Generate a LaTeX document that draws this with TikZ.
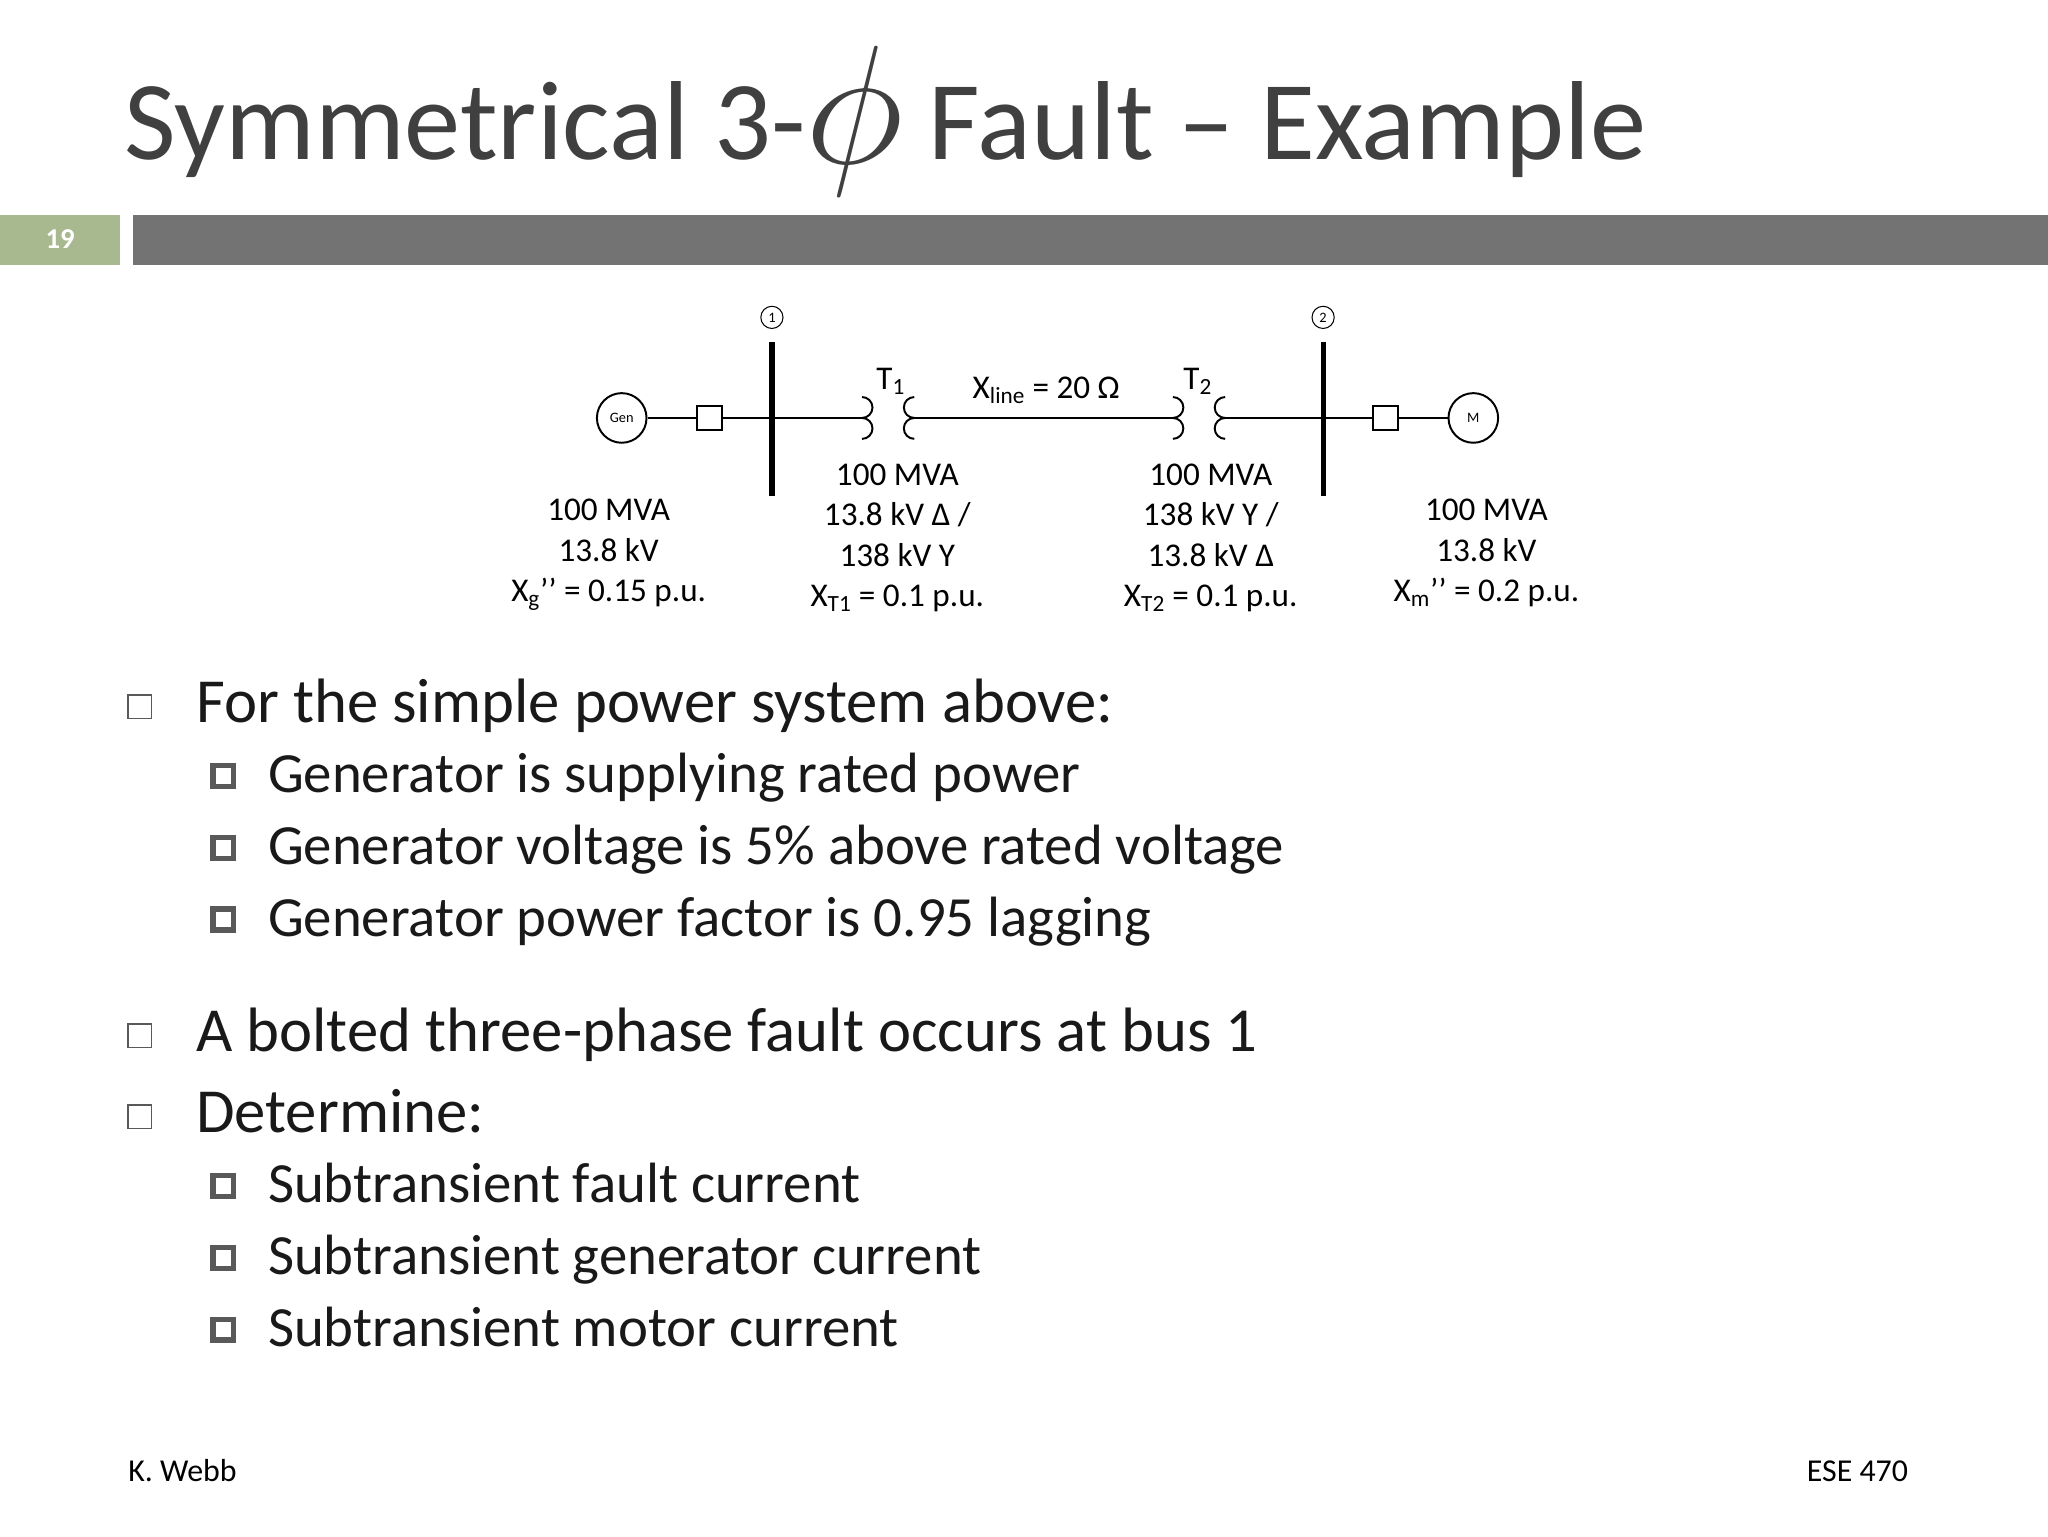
\documentclass[tikz,border=0pt]{standalone}
\usepackage{fontspec}
\usepackage{graphicx}
\setmainfont{Carlito}
\definecolor{titlec}{HTML}{404040}
\definecolor{barg}{HTML}{737373}
\definecolor{greenb}{HTML}{A9B98F}
\definecolor{bulc}{HTML}{595959}
\begin{document}
\begin{tikzpicture}[x=1pt,y=1pt,
  wire/.style={line width=1.5pt},
  bus/.style={line width=4pt},
  lbl/.style={font=\fontsize{25.4}{31}\selectfont, align=center, inner sep=0},
  l1/.style={anchor=base west, inner sep=0, font=\fontsize{48}{54}\selectfont, text=black!90},
  l2/.style={anchor=base west, inner sep=0, font=\fontsize{43.5}{48}\selectfont, text=black!90},
  b1/.style={draw=bulc, line width=1pt, minimum size=18pt, inner sep=0},
  b2/.style={draw=bulc, line width=4pt, minimum size=16pt, inner sep=0},
  mach/.style={circle, draw, line width=1.5pt, minimum size=38pt, inner sep=0, font=\fontsize{11}{12}\selectfont},
  brk/.style={draw, line width=1.5pt, minimum size=19pt, inner sep=0},
  busnum/.style={circle, draw, line width=0.8pt, minimum size=17pt, inner sep=0, font=\fontsize{11}{12}\selectfont}]
\useasboundingbox[fill=white] (0,0) rectangle (1568,1176);
% title and bars
\node[anchor=base west, inner sep=0, text=titlec, font=\fontsize{86}{92}\selectfont] (title) at (95,1054) {Symmetrical 3-\raisebox{-0.04em}{\scalebox{5.2}{$\phi$}}\ Fault -- Example};
\fill[greenb] (0,973) rectangle (92,1011);
\fill[barg] (102,973) rectangle (1568,1011);
\node[text=white, font=\bfseries\fontsize{22}{24}\selectfont] (num) at (46,993) {19};
% diagram
\node[mach] (gen) at (476,856) {Gen};
\node[brk] (br1) at (543,856) {};
\coordinate (b1t) at (591,914); \coordinate (b1b) at (591,796);
\draw[bus] (b1t) -- (b1b);
\node[busnum] (n1) at (591,933) {1};
\coordinate (b1m) at (591,856);
\coordinate (t1a) at (660,856); \coordinate (t1b) at (700,856);
\coordinate (t2a) at (898,856); \coordinate (t2b) at (938,856);
\draw[wire] (660,872) arc[start angle=90,end angle=-90,radius=8] arc[start angle=90,end angle=-90,radius=8];
\draw[wire] (700,872) arc[start angle=90,end angle=270,radius=8] arc[start angle=90,end angle=270,radius=8];
\draw[wire] (898,872) arc[start angle=90,end angle=-90,radius=8] arc[start angle=90,end angle=-90,radius=8];
\draw[wire] (938,872) arc[start angle=90,end angle=270,radius=8] arc[start angle=90,end angle=270,radius=8];
\coordinate (b2t) at (1013,914); \coordinate (b2b) at (1013,796);
\draw[bus] (b2t) -- (b2b);
\node[busnum] (n2) at (1013,933) {2};
\coordinate (b2m) at (1013,856);
\node[brk] (br2) at (1061,856) {};
\node[mach] (mot) at (1128,856) {M};
\draw[wire] (gen) -- (br1); \draw[wire] (br1) -- (b1m) -- (t1a);
\draw[wire] (t1b) -- (t2a);
\draw[wire] (t2b) -- (b2m) -- (br2); \draw[wire] (br2) -- (mot);
\node[lbl] (T1) at (682,884) {T\textsubscript{1}};
\node[lbl] (xl) at (801,877) {X\textsubscript{line} = 20 Ω};
\node[lbl] (T2) at (917,884) {T\textsubscript{2}};
\node[lbl, anchor=north] (gl) at (466,794) {100 MVA\\13.8 kV\\X\textsubscript{g}’’ = 0.15 p.u.};
\node[lbl, anchor=north] (t1l) at (687,821) {100 MVA\\13.8 kV Δ /\\138 kV Y\\X\textsubscript{T1} = 0.1 p.u.};
\node[lbl, anchor=north] (t2l) at (927,821) {100 MVA\\138 kV Y /\\13.8 kV Δ\\X\textsubscript{T2} = 0.1 p.u.};
\node[lbl, anchor=north] (ml) at (1138,794) {100 MVA\\13.8 kV\\X\textsubscript{m}’’ = 0.2 p.u.};
% bullets
\node[b1] (q1) at (107,635) {}; \node[l1] (s1) at (150,623) {For the simple power system above:};
\node[b2] (q2) at (171,582) {}; \node[l2] (s2) at (205,569) {Generator is supplying rated power};
\node[b2] (q3) at (171,527) {}; \node[l2] (s3) at (205,514) {Generator voltage is 5\% above rated voltage};
\node[b2] (q4) at (171,472) {}; \node[l2] (s4) at (205,459) {Generator power factor is 0.95 lagging};
\node[b1] (q5) at (107,383) {}; \node[l1] (s5) at (150,371) {A bolted three-phase fault occurs at bus 1};
\node[b1] (q6) at (107,321) {}; \node[l1] (s6) at (150,309) {Determine:};
\node[b2] (q7) at (171,268) {}; \node[l2] (s7) at (205,255) {Subtransient fault current};
\node[b2] (q8) at (171,213) {}; \node[l2] (s8) at (205,200) {Subtransient generator current};
\node[b2] (q9) at (171,158) {}; \node[l2] (s9) at (205,145) {Subtransient motor current};
\node[anchor=base west, inner sep=0, font=\fontsize{24.4}{26}\selectfont] (f1) at (98,42) {K. Webb};
\node[anchor=base east, inner sep=0, font=\fontsize{24.4}{26}\selectfont] (f2) at (1461,42) {ESE 470};
\end{tikzpicture}
\end{document}
